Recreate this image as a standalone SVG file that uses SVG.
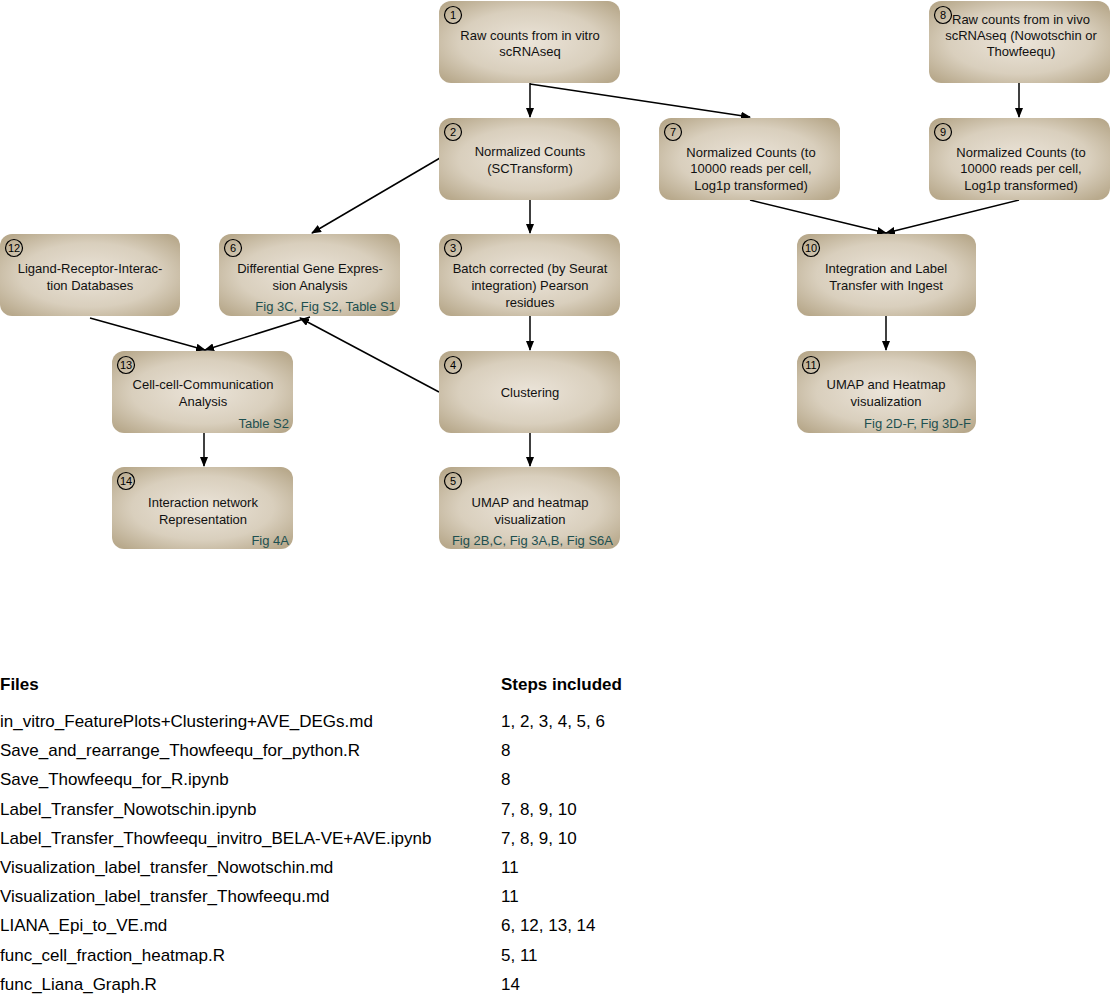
<svg xmlns="http://www.w3.org/2000/svg" width="1112" height="1000" viewBox="0 0 1112 1000">
<defs>
<radialGradient id="g" cx="50%" cy="50%" r="65%">
<stop offset="0" stop-color="#ebe4d9"/><stop offset="0.6" stop-color="#d9cfbd"/><stop offset="1" stop-color="#b8a98c"/>
</radialGradient>
<marker id="a" markerWidth="10" markerHeight="8" refX="9" refY="4" orient="auto" markerUnits="userSpaceOnUse">
<path d="M0,0 L10,4 L0,8 Z" fill="#000"/>
</marker>
<style>
.b{fill:url(#g);stroke:none}
.c{fill:none;stroke:#000;stroke-width:1.2}
.n{font-family:"Liberation Sans",Arial,sans-serif;font-size:11px;text-anchor:middle}
.t{font-family:"Liberation Sans",Arial,sans-serif;font-size:13px;text-anchor:middle;fill:#111}
.f{font-family:"Liberation Sans",Arial,sans-serif;font-size:13px;text-anchor:end;fill:#1e5050}
.l{stroke:#000;stroke-width:1.5;fill:none;marker-end:url(#a)}
.h{font-family:"Liberation Sans",Arial,sans-serif;font-size:17px;font-weight:bold}
.r{font-family:"Liberation Sans",Arial,sans-serif;font-size:17px}
</style>
</defs>
<g id="connectors">
<line class="l" x1="530" y1="83" x2="530" y2="117"/>
<line class="l" x1="530" y1="84" x2="750" y2="117"/>
<line class="l" x1="1019" y1="83" x2="1019" y2="117"/>
<line class="l" x1="440" y1="158" x2="312" y2="233"/>
<line class="l" x1="530" y1="200" x2="530" y2="233"/>
<line class="l" x1="750" y1="200" x2="886" y2="233"/>
<line class="l" x1="1019" y1="200" x2="886" y2="233"/>
<line class="l" x1="90" y1="318" x2="205" y2="350"/>
<line class="l" x1="310" y1="317" x2="205" y2="350"/>
<line class="l" x1="530" y1="316" x2="530" y2="350"/>
<line class="l" x1="439" y1="392" x2="300" y2="318"/>
<line class="l" x1="204" y1="433" x2="204" y2="466"/>
<line class="l" x1="530" y1="433" x2="530" y2="466"/>
<line class="l" x1="886" y1="316" x2="886" y2="350"/>
</g>
<g id="n1"><rect class="b" x="439" y="1" width="181" height="82" rx="12"/><circle class="c" cx="453" cy="15" r="8.5"/><text class="n" x="453" y="19">1</text><text class="t" x="530" y="40">Raw counts from in vitro</text><text class="t" x="530" y="56">scRNAseq</text></g>
<g id="n8"><rect class="b" x="929" y="1" width="181" height="82" rx="12"/><circle class="c" cx="943" cy="15" r="8.5"/><text class="n" x="943" y="19">8</text><text class="t" x="1021" y="24">Raw counts from in vivo</text><text class="t" x="1021" y="40">scRNAseq (Nowotschin or</text><text class="t" x="1021" y="56">Thowfeequ)</text></g>
<g id="n2"><rect class="b" x="439" y="118" width="181" height="82" rx="12"/><circle class="c" cx="453" cy="132" r="8.5"/><text class="n" x="453" y="136">2</text><text class="t" x="530" y="156">Normalized Counts</text><text class="t" x="530" y="173">(SCTransform)</text></g>
<g id="n7"><rect class="b" x="659" y="118" width="181" height="82" rx="12"/><circle class="c" cx="673" cy="132" r="8.5"/><text class="n" x="673" y="136">7</text><text class="t" x="751" y="157">Normalized Counts (to</text><text class="t" x="751" y="173">10000 reads per cell,</text><text class="t" x="751" y="190">Log1p transformed)</text></g>
<g id="n9"><rect class="b" x="929" y="118" width="181" height="82" rx="12"/><circle class="c" cx="943" cy="132" r="8.5"/><text class="n" x="943" y="136">9</text><text class="t" x="1021" y="157">Normalized Counts (to</text><text class="t" x="1021" y="173">10000 reads per cell,</text><text class="t" x="1021" y="190">Log1p transformed)</text></g>
<g id="n12"><rect class="b" x="0" y="234" width="180" height="82" rx="12"/><circle class="c" cx="14" cy="248" r="8.5"/><text class="n" x="14" y="252">12</text><text class="t" x="90" y="273">Ligand-Receptor-Interac-</text><text class="t" x="90" y="290">tion Databases</text></g>
<g id="n6"><rect class="b" x="219" y="234" width="181" height="82" rx="12"/><circle class="c" cx="233" cy="248" r="8.5"/><text class="n" x="233" y="252">6</text><text class="t" x="310" y="273">Differential Gene Expres-</text><text class="t" x="310" y="290">sion Analysis</text><text class="f" x="396" y="311">Fig 3C, Fig S2, Table S1</text></g>
<g id="n3"><rect class="b" x="439" y="234" width="181" height="82" rx="12"/><circle class="c" cx="453" cy="248" r="8.5"/><text class="n" x="453" y="252">3</text><text class="t" x="530" y="273">Batch corrected (by Seurat</text><text class="t" x="530" y="290">integration) Pearson</text><text class="t" x="530" y="307">residues</text></g>
<g id="n10"><rect class="b" x="797" y="234" width="179" height="82" rx="12"/><circle class="c" cx="811" cy="248" r="8.5"/><text class="n" x="811" y="252">10</text><text class="t" x="886" y="273">Integration and Label</text><text class="t" x="886" y="290">Transfer with Ingest</text></g>
<g id="n13"><rect class="b" x="112" y="351" width="181" height="82" rx="12"/><circle class="c" cx="126" cy="365" r="8.5"/><text class="n" x="126" y="369">13</text><text class="t" x="203" y="389">Cell-cell-Communication</text><text class="t" x="203" y="406">Analysis</text><text class="f" x="289" y="428">Table S2</text></g>
<g id="n4"><rect class="b" x="439" y="351" width="181" height="82" rx="12"/><circle class="c" cx="453" cy="365" r="8.5"/><text class="n" x="453" y="369">4</text><text class="t" x="530" y="397">Clustering</text></g>
<g id="n11"><rect class="b" x="797" y="351" width="179" height="82" rx="12"/><circle class="c" cx="811" cy="365" r="8.5"/><text class="n" x="811" y="369">11</text><text class="t" x="886" y="389">UMAP and Heatmap</text><text class="t" x="886" y="406">visualization</text><text class="f" x="971" y="428">Fig 2D-F,  Fig 3D-F</text></g>
<g id="n14"><rect class="b" x="112" y="467" width="181" height="82" rx="12"/><circle class="c" cx="126" cy="481" r="8.5"/><text class="n" x="126" y="485">14</text><text class="t" x="203" y="507">Interaction network</text><text class="t" x="203" y="524">Representation</text><text class="f" x="289" y="545">Fig 4A</text></g>
<g id="n5"><rect class="b" x="439" y="467" width="181" height="82" rx="12"/><circle class="c" cx="453" cy="481" r="8.5"/><text class="n" x="453" y="485">5</text><text class="t" x="530" y="507">UMAP and heatmap</text><text class="t" x="530" y="524">visualization</text><text class="f" x="613" y="545">Fig 2B,C,  Fig 3A,B, Fig S6A</text></g>
<g id="table">
<text class="h" x="0" y="690">Files</text><text class="h" x="501" y="690">Steps included</text>
<text class="r" x="0" y="727">in_vitro_FeaturePlots+Clustering+AVE_DEGs.md</text><text class="r" x="501" y="727">1, 2, 3, 4, 5, 6</text>
<text class="r" x="0" y="756">Save_and_rearrange_Thowfeequ_for_python.R</text><text class="r" x="501" y="756">8</text>
<text class="r" x="0" y="785">Save_Thowfeequ_for_R.ipynb</text><text class="r" x="501" y="785">8</text>
<text class="r" x="0" y="815">Label_Transfer_Nowotschin.ipynb</text><text class="r" x="501" y="815">7, 8, 9, 10</text>
<text class="r" x="0" y="844">Label_Transfer_Thowfeequ_invitro_BELA-VE+AVE.ipynb</text><text class="r" x="501" y="844">7, 8, 9, 10</text>
<text class="r" x="0" y="873">Visualization_label_transfer_Nowotschin.md</text><text class="r" x="501" y="873">11</text>
<text class="r" x="0" y="902">Visualization_label_transfer_Thowfeequ.md</text><text class="r" x="501" y="902">11</text>
<text class="r" x="0" y="931">LIANA_Epi_to_VE.md</text><text class="r" x="501" y="931">6, 12, 13, 14</text>
<text class="r" x="0" y="961">func_cell_fraction_heatmap.R</text><text class="r" x="501" y="961">5, 11</text>
<text class="r" x="0" y="990">func_Liana_Graph.R</text><text class="r" x="501" y="990">14</text>
</g>
</svg>
